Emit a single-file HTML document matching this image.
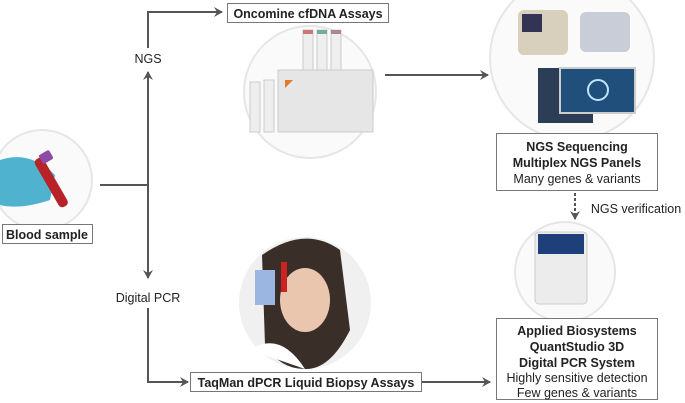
<!DOCTYPE html>
<html><head><style>
html,body{margin:0;padding:0;background:#fff;}
svg{display:block;font-family:"Liberation Sans",Arial,sans-serif;}
</style></head><body>
<svg width="685" height="403" viewBox="0 0 685 403" xmlns="http://www.w3.org/2000/svg">
<defs>
<marker id="ah" markerWidth="10" markerHeight="10" refX="8" refY="5" orient="auto" markerUnits="userSpaceOnUse">
<path d="M0,0 L9,5 L0,10 L3,5 Z" fill="#555"/></marker>
</defs>
<g fill="#fafafa" stroke="#e6e6e6" stroke-width="2">
<circle cx="42" cy="180" r="50"/>
<circle cx="310" cy="92" r="66"/>
<circle cx="572" cy="58" r="82"/>
<circle cx="565" cy="272" r="50"/>
</g>
<path d="M0,160 Q30,150 55,175 L50,200 Q20,210 0,205 Z" fill="#4fb3d0"/>
<rect x="46" y="155" width="10" height="55" rx="4" fill="#b8232a" transform="rotate(-30 51 182)"/>
<rect x="40" y="152" width="12" height="10" rx="2" fill="#8e4aa5" transform="rotate(-30 46 157)"/>

<rect x="303" y="30" width="10" height="45" fill="#eee" stroke="#ccc"/>
<rect x="317" y="30" width="10" height="45" fill="#eee" stroke="#ccc"/>
<rect x="331" y="30" width="10" height="45" fill="#eee" stroke="#ccc"/>
<rect x="303" y="30" width="10" height="4" fill="#c77"/>
<rect x="317" y="30" width="10" height="4" fill="#7a9"/>
<rect x="331" y="30" width="10" height="4" fill="#a88"/>
<rect x="278" y="70" width="95" height="62" fill="#e6e6e6" stroke="#ccc"/>
<path d="M285,80 L293,80 L285,88 Z" fill="#e07b2a"/>
<rect x="250" y="82" width="10" height="50" fill="#eee" stroke="#ccc"/>
<rect x="264" y="80" width="10" height="52" fill="#eee" stroke="#ccc"/>

<rect x="518" y="10" width="50" height="45" rx="6" fill="#d8d0bd"/>
<rect x="522" y="14" width="20" height="18" fill="#335"/>
<rect x="580" y="12" width="50" height="40" rx="6" fill="#c8cdd8"/>
<rect x="538" y="68" width="55" height="55" fill="#2c3e55"/>
<rect x="560" y="68" width="75" height="45" fill="#1f4f7a" stroke="#ccc" stroke-width="2"/>
<circle cx="598" cy="90" r="10" fill="none" stroke="#bfe4ff" stroke-width="2"/>

<rect x="535" y="232" width="52" height="72" rx="4" fill="#ececec" stroke="#ccc"/>
<rect x="538" y="234" width="46" height="20" fill="#1d3f7a"/>

<circle cx="305" cy="303" r="66" fill="#f0f0f0"/>
<path d="M262,255 Q305,225 340,250 L350,330 Q330,370 305,369 Q280,369 265,345 Z" fill="#3a2e28"/>
<ellipse cx="305" cy="300" rx="25" ry="32" fill="#e9c6ad"/>
<path d="M250,350 Q280,330 305,369 Z" fill="#fff"/>
<rect x="255" y="270" width="20" height="35" fill="#9bb6e0"/>
<rect x="281" y="262" width="6" height="30" fill="#c22" />

<g stroke="#555" stroke-width="2" fill="none">
<line x1="100" y1="185" x2="148" y2="185"/>
<line x1="148" y1="185" x2="148" y2="72" marker-end="url(#ah)"/>
<polyline points="148,48 148,12 222,12" marker-end="url(#ah)"/>
<line x1="148" y1="185" x2="148" y2="278" marker-end="url(#ah)"/>
<polyline points="148,308 148,382 188,382" marker-end="url(#ah)"/>
<line x1="421" y1="382" x2="490" y2="382" marker-end="url(#ah)"/>
<line x1="385" y1="75" x2="488" y2="75" marker-end="url(#ah)"/>
<line x1="575" y1="193" x2="575" y2="219" stroke-dasharray="3,2" marker-end="url(#ah)"/>
</g>

<g fill="#fff" stroke="#777" stroke-width="1">
<rect x="2.5" y="224.5" width="90" height="19"/>
<rect x="227.5" y="3.5" width="161" height="19"/>
<rect x="190.5" y="372.5" width="231" height="19"/>
<rect x="496.5" y="133.5" width="161" height="57"/>
<rect x="496.5" y="318.5" width="161" height="81"/>
</g>

<g fill="#222" font-size="12.5" text-anchor="middle">
<text x="47" y="239" font-weight="bold">Blood sample</text>
<text x="308" y="18" font-weight="bold">Oncomine cfDNA Assays</text>
<text x="306" y="387" font-weight="bold">TaqMan dPCR Liquid Biopsy Assays</text>
<text x="148" y="63">NGS</text>
<text x="148" y="302">Digital PCR</text>
<text x="577" y="151" font-weight="bold">NGS Sequencing</text>
<text x="577" y="167" font-weight="bold">Multiplex NGS Panels</text>
<text x="577" y="183">Many genes &amp; variants</text>
<text x="636" y="213">NGS verification</text>
<text x="577" y="335" font-weight="bold">Applied Biosystems</text>
<text x="577" y="351" font-weight="bold">QuantStudio 3D</text>
<text x="577" y="367" font-weight="bold">Digital PCR System</text>
<text x="577" y="382">Highly sensitive detection</text>
<text x="577" y="397">Few genes &amp; variants</text>
</g>
</svg>
</body></html>
